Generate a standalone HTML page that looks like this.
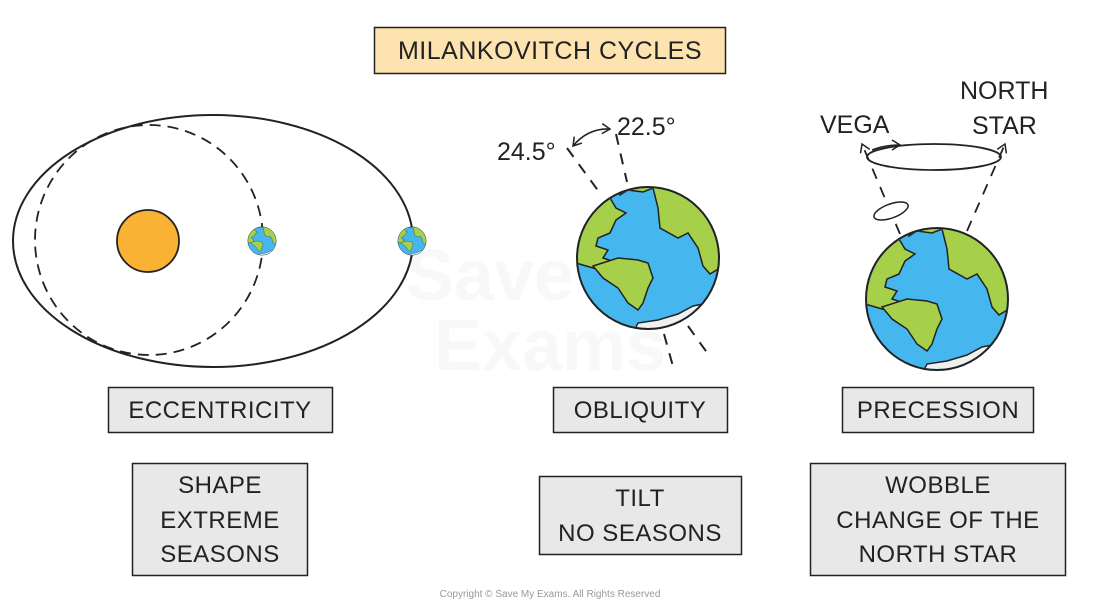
<!DOCTYPE html>
<html><head><style>
body{margin:0;background:#fff;}
svg{display:block;font-family:"Liberation Sans",sans-serif;}
</style></head><body>
<svg width="1100" height="611" viewBox="0 0 1100 611" xmlns="http://www.w3.org/2000/svg">
<defs>
<clipPath id="ec"><circle cx="0" cy="0" r="70"/></clipPath>
<g id="earth">
<circle cx="0" cy="0" r="71" fill="#45b7ee"/>
<g clip-path="url(#ec)">
<path d="M-72,-20 Q-60,-45 -38,-60 L-32,-50 -22,-45 -32,-38 -38,-25 -50,-20 -52,-12 -40,-8 -45,0 -30,5 -40,12 -55,10 -72,5Z" fill="#a6d04a" stroke="#222" stroke-width="1.5"/>
<path d="M-28,-63 L-20,-68 -5,-66 5,-70 10,-50 12,-30 30,-20 40,-25 50,-10 55,8 62,16 80,5 80,-80 -28,-80Z" fill="#a6d04a" stroke="#222" stroke-width="1.5"/>
<path d="M-55,8 L-30,0 -10,2 0,5 5,20 0,30 -5,45 -10,52 -20,45 -30,30 -45,20Z" fill="#a6d04a" stroke="#222" stroke-width="1.5"/>
<path d="M-15,75 L-10,65 10,62 30,56 45,48 60,45 70,50 70,90 -15,90Z" fill="#f0f0f0" stroke="#222" stroke-width="1.5"/>
</g>
<circle cx="0" cy="0" r="71" fill="none" stroke="#222" stroke-width="2"/>
</g>
<marker id="ah" markerUnits="userSpaceOnUse" markerWidth="12" markerHeight="12" refX="9" refY="6" orient="auto-start-reverse"><path d="M1,1 L9,6 L1,11" fill="none" stroke="#222" stroke-width="1.5"/></marker>
</defs>

<text x="550" y="300" font-size="72" font-weight="bold" fill="#f8f8f8" text-anchor="middle">Save My</text>
<text x="550" y="370" font-size="72" font-weight="bold" fill="#f8f8f8" text-anchor="middle">Exams</text>

<rect x="374.5" y="27.5" width="351" height="46" fill="#fde3b0" stroke="#222" stroke-width="1.5"/>
<text x="550" y="59" font-size="25" text-anchor="middle" fill="#222" letter-spacing="0.5">MILANKOVITCH CYCLES</text>

<ellipse cx="213" cy="241" rx="200" ry="126" fill="none" stroke="#222" stroke-width="2"/>
<ellipse cx="149" cy="240" rx="114" ry="115" fill="none" stroke="#222" stroke-width="1.8" stroke-dasharray="11,7"/>
<circle cx="148" cy="241" r="31" fill="#f9b233" stroke="#222" stroke-width="1.8"/>
<g transform="translate(262,241) scale(0.2)"><use href="#earth"/></g>
<g transform="translate(412,241) scale(0.2)"><use href="#earth"/></g>

<!-- obliquity -->
<g transform="translate(648,258)"><use href="#earth"/></g>
<path d="M567,148 L602,196" stroke="#222" stroke-width="2" stroke-dasharray="11,9" fill="none"/>
<path d="M616,134 L627,182" stroke="#222" stroke-width="2" stroke-dasharray="11,9" fill="none"/>
<path d="M664,334 L674,370" stroke="#222" stroke-width="2" stroke-dasharray="11,9" fill="none"/>
<path d="M688,326 L708,354" stroke="#222" stroke-width="2" stroke-dasharray="11,9" fill="none"/>
<path d="M573,146 Q588,128 610,129" fill="none" stroke="#222" stroke-width="1.6" marker-end="url(#ah)" marker-start="url(#ah)"/>
<text x="497" y="160" font-size="25" fill="#222">24.5°</text>
<text x="617" y="135" font-size="25" fill="#222">22.5°</text>

<!-- precession -->
<g transform="translate(937,299)"><use href="#earth"/></g>
<ellipse cx="934" cy="157" rx="67" ry="13" fill="none" stroke="#222" stroke-width="1.8"/>
<path d="M900,234 L862,144" stroke="#222" stroke-width="1.8" stroke-dasharray="11,9" fill="none" marker-end="url(#ah)"/>
<path d="M967,231 L1005,144" stroke="#222" stroke-width="1.8" stroke-dasharray="11,9" fill="none" marker-end="url(#ah)"/>
<path d="M872,150 Q885,145 900,145" fill="none" stroke="#222" stroke-width="1.6" marker-end="url(#ah)"/>
<ellipse cx="891" cy="211" rx="18" ry="7" transform="rotate(-20 891 211)" fill="#fff" stroke="#222" stroke-width="1.5"/>
<text x="820" y="133" font-size="25" fill="#222">VEGA</text>
<text x="960" y="99" font-size="25" fill="#222">NORTH</text>
<text x="972" y="134" font-size="25" fill="#222">STAR</text>

<g font-size="24" fill="#222" text-anchor="middle" letter-spacing="0.5">
<rect x="108.5" y="387.5" width="224" height="45" fill="#e8e8e8" stroke="#222" stroke-width="1.5"/>
<text x="220" y="418">ECCENTRICITY</text>
<rect x="553.5" y="387.5" width="174" height="45" fill="#e8e8e8" stroke="#222" stroke-width="1.5"/>
<text x="640" y="418">OBLIQUITY</text>
<rect x="842.5" y="387.5" width="191" height="45" fill="#e8e8e8" stroke="#222" stroke-width="1.5"/>
<text x="938" y="418">PRECESSION</text>
<rect x="132.5" y="463.5" width="175" height="112" fill="#e8e8e8" stroke="#222" stroke-width="1.5"/>
<text x="220" y="493">SHAPE</text><text x="220" y="528">EXTREME</text><text x="220" y="562">SEASONS</text>
<rect x="539.5" y="476.5" width="202" height="78" fill="#e8e8e8" stroke="#222" stroke-width="1.5"/>
<text x="640" y="506">TILT</text><text x="640" y="541">NO SEASONS</text>
<rect x="810.5" y="463.5" width="255" height="112" fill="#e8e8e8" stroke="#222" stroke-width="1.5"/>
<text x="938" y="493">WOBBLE</text><text x="938" y="528">CHANGE OF THE</text><text x="938" y="562">NORTH STAR</text>
</g>
<text x="550" y="597" font-size="10" fill="#999" text-anchor="middle">Copyright © Save My Exams. All Rights Reserved</text>
</svg>
</body></html>
